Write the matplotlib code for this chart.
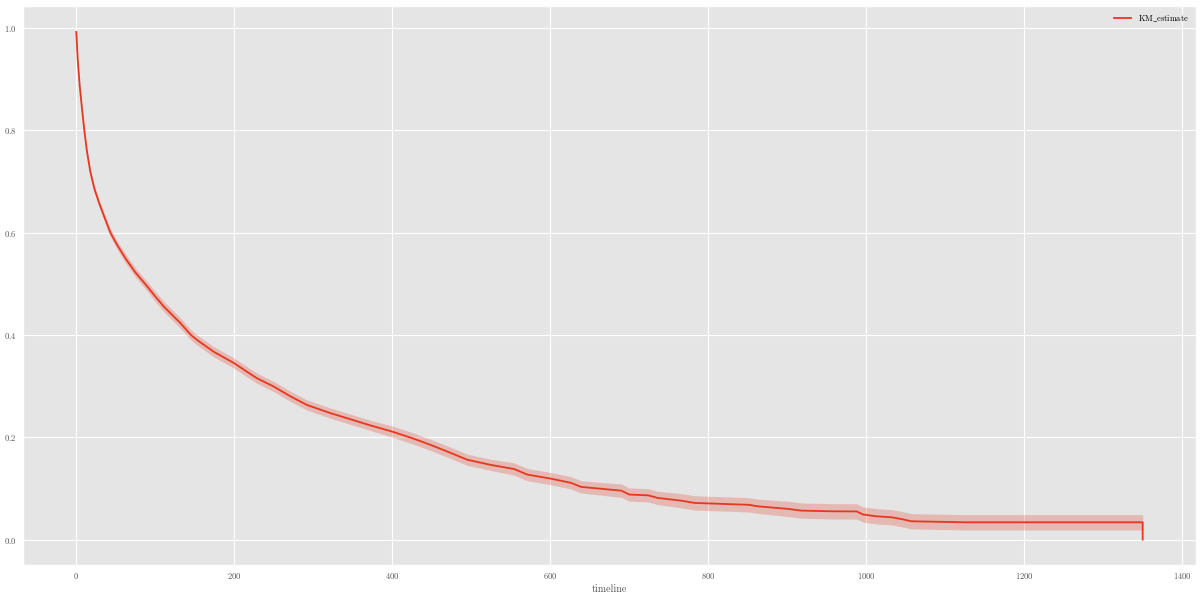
import numpy as np
import matplotlib
matplotlib.use("Agg")
import matplotlib.pyplot as plt

plt.style.use("ggplot")
plt.rcParams['font.family'] = ['cmr10', 'DejaVu Serif']
plt.rcParams['axes.formatter.use_mathtext'] = True
plt.rcParams['mathtext.fontset'] = 'cm'

# Kaplan-Meier estimate
timeline = [0, 1.7, 4.2, 7.2, 10.1, 13.5, 17.7, 22.8, 28.3, 34.6, 43, 51.6, 62,
            74.8, 89.6, 100, 111, 131.8, 145, 153, 174, 199.5, 216, 229, 250,
            271, 292, 322, 351.5, 372.6, 400, 427.5, 448.6, 469.8, 495, 524.5,
            554, 571, 601, 626, 639, 690, 700, 724, 736, 766, 783, 851, 863,
            901.6, 918, 956, 988, 996, 1013, 1032, 1045, 1057, 1125, 1350, 1350]
km_estimate = [0.992, 0.940, 0.888, 0.842, 0.800, 0.758, 0.719, 0.686, 0.660,
               0.634, 0.600, 0.576, 0.550, 0.522, 0.495, 0.475, 0.455, 0.423,
               0.400, 0.390, 0.367, 0.345, 0.328, 0.315, 0.299, 0.280, 0.263,
               0.247, 0.233, 0.223, 0.211, 0.197, 0.185, 0.172, 0.156, 0.146,
               0.138, 0.127, 0.119, 0.111, 0.103, 0.0956, 0.088, 0.0865, 0.0814,
               0.076, 0.0716, 0.068, 0.065, 0.0599, 0.0566, 0.0553, 0.055,
               0.049, 0.0455, 0.0436, 0.040, 0.0358, 0.0338, 0.0338, 0.0]
# half width of the confidence band (no band for the final drop)
ci_half = [0.001, 0.003, 0.004, 0.005, 0.005, 0.006, 0.006, 0.006, 0.007,
           0.007, 0.008, 0.008, 0.009, 0.009, 0.009, 0.010, 0.010, 0.010,
           0.010, 0.010, 0.010, 0.010, 0.010, 0.010, 0.010, 0.010, 0.010,
           0.010, 0.010, 0.010, 0.011, 0.011, 0.011, 0.011, 0.011, 0.011,
           0.012, 0.012, 0.012, 0.012, 0.012, 0.013, 0.013, 0.013, 0.013,
           0.014, 0.014, 0.014, 0.014, 0.015, 0.015, 0.015, 0.015, 0.015,
           0.015, 0.015, 0.015, 0.015, 0.015, 0.015]

t = np.array(timeline)
s = np.array(km_estimate)
hw = np.array(ci_half)
n = len(hw)

fig = plt.figure(figsize=(12, 5.97), dpi=100)
ax = fig.add_subplot(111)
fig.subplots_adjust(left=23/1200, right=1196/1200, top=1-6/597, bottom=1-565/597)

col = '#E6381F'
ax.fill_between(t[:n], s[:n] - hw, s[:n] + hw, color=col, alpha=0.25, linewidth=0)
ax.plot(t, s, color=col, linewidth=1.3, label=r'$\mathrm{KM\_estimate}$')

ax.set_xlabel('timeline', fontsize=7.2, labelpad=2)
ax.tick_params(labelsize=6.2, length=0, pad=4.5)
ax.legend(loc='upper right', frameon=False, fontsize=6)

fig.savefig('out.png', dpi=100)
